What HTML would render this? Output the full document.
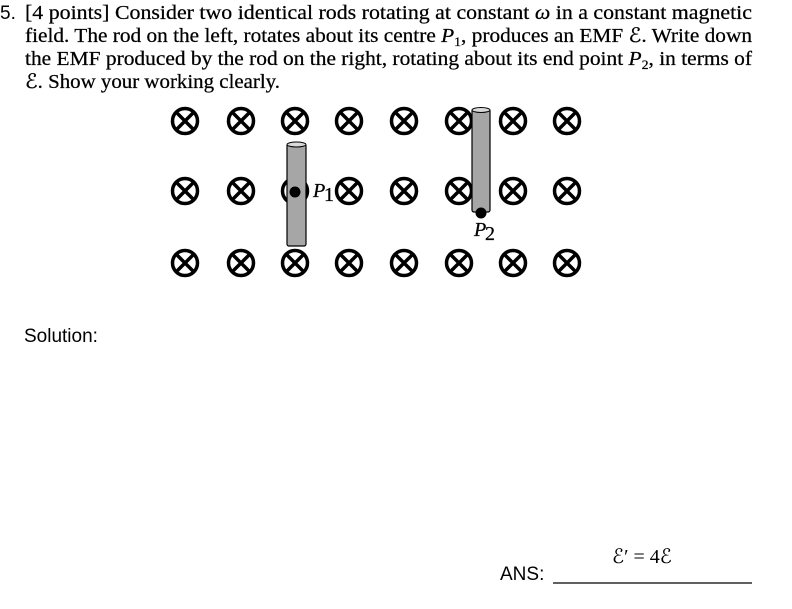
<!DOCTYPE html>
<html><head><meta charset="utf-8"><style>
html,body{margin:0;padding:0;background:#fff;}
svg{display:block}
.t{font-family:"Liberation Serif",serif;font-size:20px;fill:#000;stroke:#000;stroke-width:0.25}
.s{font-family:"Liberation Sans",sans-serif;font-size:19px;fill:#000}
</style></head><body>
<svg width="792" height="609" viewBox="0 0 792 609" xmlns="http://www.w3.org/2000/svg">
<text class="s" x="0" y="19">5.</text>
<text class="t" x="25" y="19" textLength="727" lengthAdjust="spacingAndGlyphs">[4 points] Consider two identical rods rotating at constant <tspan font-style="italic">ω</tspan> in a constant magnetic</text>
<text class="t" x="25" y="42" textLength="727" lengthAdjust="spacingAndGlyphs">field. The rod on the left, rotates about its centre <tspan font-style="italic">P</tspan><tspan font-size="13" dy="4">1</tspan><tspan dy="-4">, produces an EMF ℰ. Write down</tspan></text>
<text class="t" x="25" y="65" textLength="727" lengthAdjust="spacingAndGlyphs">the EMF produced by the rod on the right, rotating about its end point <tspan font-style="italic">P</tspan><tspan font-size="13" dy="4">2</tspan><tspan dy="-4">, in terms of</tspan></text>
<text class="t" x="25" y="88" textLength="255" lengthAdjust="spacingAndGlyphs">ℰ. Show your working clearly.</text>

<defs>
<g id="x"><circle r="12.5" fill="none" stroke="#000" stroke-width="3.5"/><path d="M-8.5,-8.5L8.5,8.5M8.5,-8.5L-8.5,8.5" stroke="#000" stroke-width="3.5"/></g>
</defs>
<g>
<use href="#x" x="185" y="121"/><use href="#x" x="241" y="121"/><use href="#x" x="295" y="121"/><use href="#x" x="349" y="121"/><use href="#x" x="404" y="121"/><use href="#x" x="459" y="121"/><use href="#x" x="513" y="121"/><use href="#x" x="567" y="121"/>
<use href="#x" x="185" y="191"/><use href="#x" x="241" y="191"/><use href="#x" x="295" y="191"/><use href="#x" x="349" y="191"/><use href="#x" x="404" y="191"/><use href="#x" x="459" y="191"/><use href="#x" x="513" y="191"/><use href="#x" x="567" y="191"/>
<use href="#x" x="185" y="263"/><use href="#x" x="241" y="263"/><use href="#x" x="295" y="263"/><use href="#x" x="349" y="263"/><use href="#x" x="404" y="263"/><use href="#x" x="459" y="263"/><use href="#x" x="513" y="263"/><use href="#x" x="567" y="263"/>
</g>
<!-- rod 1 -->
<rect x="287" y="144" width="19" height="102" rx="2" fill="#a6a6a6" stroke="#000" stroke-width="1.2"/>
<ellipse cx="296.5" cy="144.5" rx="9.5" ry="2.5" fill="#d9d9d9" stroke="#000" stroke-width="1"/>
<circle cx="295" cy="192" r="5.5" fill="#000"/>
<text class="t" x="313" y="197" font-style="italic" font-size="18">P</text><text class="t" x="324" y="201" font-size="12">1</text>
<!-- rod 2 -->
<rect x="472" y="109" width="18" height="103" rx="2" fill="#a6a6a6" stroke="#000" stroke-width="1.2"/>
<ellipse cx="481" cy="110" rx="9" ry="2.5" fill="#d9d9d9" stroke="#000" stroke-width="1"/>
<circle cx="481" cy="213" r="5.5" fill="#000"/>
<text class="t" x="474" y="236" font-style="italic" font-size="18">P</text><text class="t" x="485" y="240" font-size="12">2</text>

<text class="s" x="24" y="342">Solution:</text>
<text class="s" x="500" y="580">ANS:</text>
<line x1="553" y1="583" x2="752" y2="583" stroke="#000" stroke-width="1.3"/>
<text class="t" x="612" y="563" font-size="15" style="stroke-width:0">ℰ′ = 4ℰ</text>
</svg>
</body></html>
